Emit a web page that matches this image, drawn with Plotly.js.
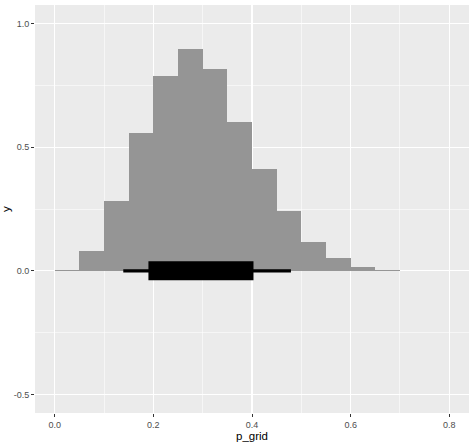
<!DOCTYPE html>
<html>
<head>
<script src="https://cdn.plot.ly/plotly-3.0.1.min.js"></script>
<style>body{margin:0;padding:0;background:#fff;}#chart{width:474px;height:442px;}</style>
</head>
<body>
<div id="chart"></div>
<script>
// Histogram slab: bin centers (p_grid) and heights
var binCenters = [0.025, 0.075, 0.125, 0.175, 0.225, 0.275, 0.325, 0.375, 0.425, 0.475, 0.525, 0.575, 0.625, 0.675];
var binHeights = [0.003, 0.080, 0.283, 0.557, 0.786, 0.899, 0.815, 0.602, 0.411, 0.240, 0.116, 0.050, 0.015, 0.004];
var binWidth = 0.05;
// Interval: outer (thin) and inner (thick)
var outerInterval = [0.139, 0.479];
var innerInterval = [0.190, 0.403];
var intervalY = 0;

var xTicks = [0, 0.2, 0.4, 0.6, 0.8];
var xTickLabels = ["0.0", "0.2", "0.4", "0.6", "0.8"];
var yTicks = [-0.5, 0, 0.5, 1.0];
var yTickLabels = ["-0.5", "0.0", "0.5", "1.0"];

var traces = [
  {
    type: 'bar',
    x: binCenters,
    y: binHeights,
    width: binCenters.map(function(){return binWidth;}),
    marker: {color: '#959595', line: {width: 0}},
    hoverinfo: 'skip'
  },
  {
    type: 'scatter', mode: 'lines',
    x: outerInterval, y: [intervalY, intervalY],
    line: {color: '#000000', width: 3.3},
    hoverinfo: 'skip'
  },
  {
    type: 'scatter', mode: 'lines',
    x: innerInterval, y: [intervalY, intervalY],
    line: {color: '#000000', width: 19},
    hoverinfo: 'skip'
  }
];

var tickFont = {family: 'Liberation Sans, Arial, sans-serif', size: 9, color: '#4D4D4D'};
var titleFont = {family: 'Liberation Sans, Arial, sans-serif', size: 11.5, color: '#000000'};

var layout = {
  width: 474, height: 442,
  margin: {l: 35, r: 5, t: 5, b: 29, pad: 0},
  paper_bgcolor: '#FFFFFF',
  plot_bgcolor: '#EBEBEB',
  showlegend: false,
  bargap: 0,
  xaxis: {
    range: [-0.04, 0.84],
    tickvals: xTicks, ticktext: xTickLabels,
    tickfont: tickFont,
    ticks: 'outside', ticklen: 3, tickwidth: 1, tickcolor: '#333333',
    showgrid: true, gridcolor: '#FFFFFF', gridwidth: 1.1,
    minor: {dtick: 0.2, tick0: 0.1, showgrid: true, gridcolor: '#FFFFFF', gridwidth: 0.55, ticks: ''},
    zeroline: false, showline: false,
    title: {text: 'p_grid', font: titleFont, standoff: 1}
  },
  yaxis: {
    range: [-0.575, 1.075],
    tickvals: yTicks, ticktext: yTickLabels,
    tickfont: tickFont,
    ticks: 'outside', ticklen: 3, tickwidth: 1, tickcolor: '#333333',
    showgrid: true, gridcolor: '#FFFFFF', gridwidth: 1.1,
    minor: {dtick: 0.5, tick0: -0.25, showgrid: true, gridcolor: '#FFFFFF', gridwidth: 0.55, ticks: ''},
    zeroline: false, showline: false,
    title: {text: 'y', font: titleFont, standoff: 3}
  }
};

Plotly.newPlot('chart', traces, layout, {displayModeBar: false, staticPlot: true});
</script>
</body>
</html>
